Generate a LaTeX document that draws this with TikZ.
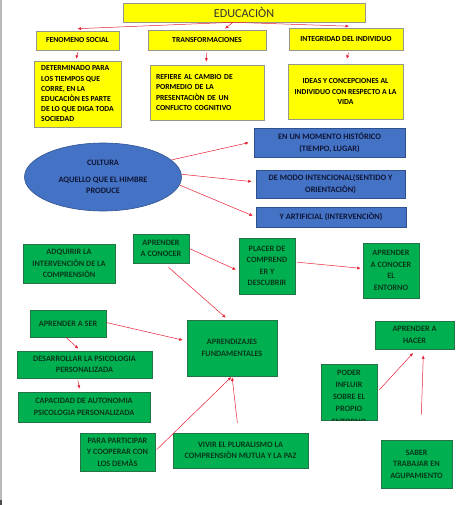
\documentclass[tikz,border=0pt]{standalone}
\usepackage{fontspec}
\setmainfont{Carlito}
\usetikzlibrary{shapes.geometric,arrows.meta,calc,positioning}
\definecolor{boxyellow}{RGB}{255,255,0}
\definecolor{lineyellow}{RGB}{150,150,140}
\definecolor{boxblue}{RGB}{68,114,196}
\definecolor{lineblue}{RGB}{47,82,143}
\definecolor{textblue}{RGB}{15,22,55}
\definecolor{boxgreen}{RGB}{0,176,80}
\definecolor{linegreen}{RGB}{35,115,70}
\definecolor{textgreen}{RGB}{5,55,25}
\definecolor{arrowred}{RGB}{232,30,50}

\tikzset{
  boxbase/.style={rectangle, inner sep=0pt, align=center},
  ybox/.style={boxbase, draw=lineyellow, fill=boxyellow, text=black, line width=0.6pt,
    font=\fontsize{7.7}{10.2}\selectfont\bfseries},
  bbox/.style={boxbase, draw=lineblue, fill=boxblue, text=textblue, line width=0.6pt,
    font=\fontsize{8.3}{11.7}\selectfont\bfseries},
  gbox/.style={boxbase, draw=linegreen, fill=boxgreen, text=textgreen, line width=0.6pt,
    font=\fontsize{8.2}{11.5}\selectfont\bfseries},
  arr/.style={-{Latex[length=3.5pt,width=3pt]}, arrowred, line width=0.5pt},
}

\begin{document}
\begin{tikzpicture}[x=1pt,y=-1pt]
  \useasboundingbox (0,0) rectangle (474,505);
  % left edge
  \fill[gray!55] (0,0) rectangle (2.2,500);
  \fill[black!70] (0,500) rectangle (2.2,505);

  % Top level
  \node[ybox, minimum width=242pt, minimum height=19pt, font=\fontsize{12.2}{14}\selectfont, text=black!80]
    (edu) at (244,12.5) {EDUCACIÒN};
  \node[ybox, minimum width=83pt, minimum height=19pt] (fen) at (77.5,40.5) {FENOMENO SOCIAL};
  \node[ybox, minimum width=118pt, minimum height=20pt] (tra) at (207,40) {TRANSFORMACIONES};
  \node[ybox, minimum width=114pt, minimum height=22pt] (inte) at (346,39.5) {INTEGRIDAD DEL INDIVIDUO};

  % Descriptions
  \node[ybox, minimum width=87pt, minimum height=66pt, align=left] (det) at (77.5,94)
    {DETERMINADO PARA\\LOS TIEMPOS QUE\\CORRE, EN LA\\EDUCACIÒN ES PARTE\\DE LO QUE DIGA TODA\\SOCIEDAD};
  \node[ybox, minimum width=114pt, minimum height=55pt, text width=102pt, align=left] (ref) at (207,92.5)
    {REFIERE AL CAMBIO DE\\PORMEDIO DE LA\\PRESENTACIÒN DE UN\\CONFLICTO COGNITIVO};
  \node[ybox, minimum width=115pt, minimum height=55pt] (ideas) at (345.5,91.5)
    {IDEAS Y CONCEPCIONES AL\\INDIVIDUO CON RESPECTO A LA\\VIDA};

  \coordinate (eduout) at ([xshift=-11pt]edu.south);
  \draw[arr] (eduout) -- ([yshift=2pt]fen.north);
  \draw[arr] (eduout) -- ([xshift=18pt,yshift=1pt]tra.north);
  \draw[arr] (eduout) -- ([xshift=3pt,yshift=2pt]inte.north);
  \draw[arr, shorten <=2pt, shorten >=2pt] ([xshift=1pt]fen.south) -- ([xshift=-2pt]det.north);
  \draw[arr, shorten <=2pt, shorten >=3pt] (tra.south) -- ([xshift=-1pt]ref.north);
  \draw[arr, shorten <=2pt, shorten >=5pt] ([xshift=3pt]inte.south) -- (ideas.north);

  % Cultura
  \node[ellipse, draw=lineblue, fill=boxblue, text=textblue, line width=0.6pt, inner sep=0pt,
    minimum width=157pt, minimum height=68pt, align=center, font=\fontsize{8.3}{11.7}\selectfont\bfseries]
    (cult) at (103,177) {CULTURA\\[5pt]AQUELLO QUE EL HIMBRE\\PRODUCE};
  \node[bbox, minimum width=151pt, minimum height=29pt] (mom) at (329.5,142.5)
    {EN UN MOMENTO HISTÓRICO\\(TIEMPO, LUGAR)};
  \node[bbox, minimum width=149pt, minimum height=28pt] (modo) at (330.5,184)
    {DE MODO INTENCIONAL(SENTIDO Y\\ORIENTACIÒN)};
  \node[bbox, minimum width=150pt, minimum height=20pt] (art) at (331,217)
    {Y ARTIFICIAL (INTERVENCIÒN)};
  \draw[arr, shorten >=5pt] (cult.14) -- ([yshift=1pt]mom.west);
  \draw[arr, shorten >=4pt] (cult.2) -- ([yshift=2pt]modo.west);
  \draw[arr, shorten >=3pt] (cult.-6) -- (art.west);

  % Aprendizajes
  \node[gbox, minimum width=92pt, minimum height=39pt] (adq) at (69,263.5)
    {ADQUIRIR LA\\INTERVENCIÒN DE LA\\COMPRENSIÒN};
  \node[gbox, minimum width=56pt, minimum height=29pt] (apc) at (161,248.5)
    {APRENDER\\A CONOCER};
  \node[gbox, minimum width=56pt, minimum height=56pt] (pla) at (267,266)
    {PLACER DE\\COMPREND\\ER Y\\DESCUBRIR};
  \node[gbox, minimum width=56pt, minimum height=55pt] (ent) at (391,270.5)
    {APRENDER\\A CONOCER\\EL\\ENTORNO};
  \node[gbox, minimum width=76pt, minimum height=27pt] (ser) at (68,323.5) {APRENDER A SER};
  \node[gbox, minimum width=135pt, minimum height=27pt] (des) at (84.5,364.5)
    {DESARROLLAR LA PSICOLOGIA\\PERSONALIZADA};
  \node[gbox, minimum width=132pt, minimum height=30pt] (cap) at (84,407)
    {CAPACIDAD DE AUTONOMIA\\PSICOLOGIA PERSONALIZADA};
  \node[gbox, minimum width=90pt, minimum height=56pt] (fun) at (232,348)
    {APRENDIZAJES\\FUNDAMENTALES};
  \node[gbox, minimum width=79pt, minimum height=28pt] (hac) at (414.5,335)
    {APRENDER A\\HACER};
  \node[gbox, minimum width=56pt, minimum height=56pt] (pod) at (349,392) {};
  \begin{scope}
    \clip ([shift={(0.3pt,0.3pt)}]pod.south west) rectangle ([shift={(-0.3pt,-0.3pt)}]pod.north east);
    \node[boxbase, text=textgreen, font=\fontsize{8.2}{12.3}\selectfont\bfseries, anchor=north]
      (podtext) at (349,369.5) {PODER\\INFLUIR\\SOBRE EL\\PROPIO\\ENTORNO};
  \end{scope}
  \node[gbox, minimum width=75pt, minimum height=38pt] (par) at (117.5,452)
    {PARA PARTICIPAR\\Y COOPERAR CON\\LOS DEMÀS};
  \node[gbox, minimum width=135pt, minimum height=35pt] (viv) at (240.5,450.5)
    {VIVIR EL PLURALISMO LA\\COMPRENSIÒN MUTUA Y LA PAZ};
  \node[gbox, minimum width=71pt, minimum height=48pt] (sab) at (416.5,464)
    {SABER\\TRABAJAR EN\\AGUPAMIENTO};

  \draw[arr, shorten >=3pt] (apc.east) -- ([yshift=-5pt]pla.west);
  \draw[arr, shorten <=2pt, shorten >=2pt] ([yshift=4pt]pla.east) -- ([yshift=2pt]ent.west);
  \draw[arr, shorten <=6pt, shorten >=3pt] ([xshift=3pt]apc.south) -- ([xshift=-4pt]fun.north);
  \draw[arr, shorten >=4pt] ([yshift=1pt]ser.east) -- ([yshift=7pt]fun.west);
  \draw[arr, shorten >=3pt] ([xshift=-2pt]ser.south) -- ([xshift=-4pt]des.north);
  \draw[arr, shorten <=2pt, shorten >=3pt] ([xshift=-7pt]des.south) -- ([xshift=-4pt]cap.north);
  \draw[arr, shorten <=2pt, shorten >=1pt] ([yshift=1pt]par.east) -- (fun.south);
  \draw[arr, shorten <=10pt, shorten >=1pt] ([xshift=-2pt]viv.north) -- (fun.south);
  \draw[arr, shorten <=3pt, shorten >=5pt] (pod.east) -- ([xshift=2pt]hac.south);
  \draw[arr, shorten <=25pt, shorten >=6pt] ([xshift=4pt]sab.north) -- ([xshift=9pt]hac.south);
\end{tikzpicture}
\end{document}
